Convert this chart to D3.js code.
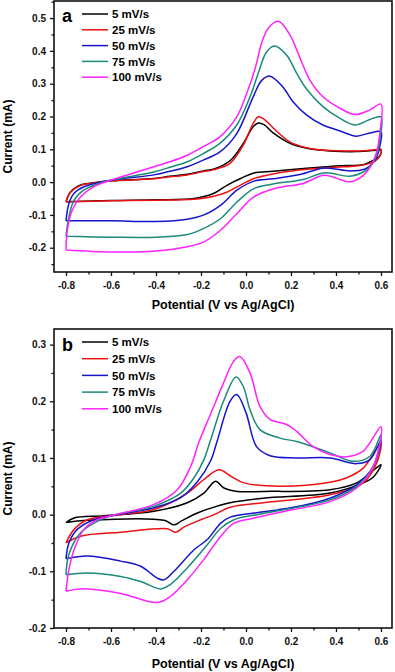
<!DOCTYPE html>
<html>
<head>
<meta charset="utf-8">
<script src="https://cdnjs.cloudflare.com/ajax/libs/d3/7.8.5/d3.min.js"></script>
<style>
  body { margin: 0; background: #fff; }
  svg { display: block; font-family: Arial, "Liberation Sans", sans-serif; }
</style>
</head>
<body>
<svg id="canvas" width="395" height="672"></svg>
<script>
const seriesNames = ["5 mV/s", "25 mV/s", "50 mV/s", "75 mV/s", "100 mV/s"];
const colors = ["#000000", "#ee1111", "#1515cc", "#1a8a7a", "#ff22ff"];

const xTicks = [-0.8, -0.6, -0.4, -0.2, 0.0, 0.2, 0.4, 0.6];
const yTicksA = [-0.2, -0.1, 0.0, 0.1, 0.2, 0.3, 0.4, 0.5];
const yTicksB = [-0.2, -0.1, 0.0, 0.1, 0.2, 0.3];

// [potential (V), current (mA)] : forward scan then reverse scan
const a5 = [[-0.8,-0.06],[-0.78,-0.03],[-0.735,-0.009],[-0.676,-0.002],[-0.6,0.004],[-0.409,0.011],[-0.338,0.018],[-0.261,0.024],[-0.19,0.034],[-0.142,0.04],[-0.071,0.065],[-0.012,0.118],[0.032,0.169],[0.055,0.18],[0.08,0.175],[0.121,0.15],[0.196,0.118],[0.27,0.103],[0.373,0.095],[0.49,0.093],[0.58,0.097],[0.6,0.098],
  [0.595,0.08],[0.58,0.072],[0.565,0.066],[0.52,0.053],[0.418,0.05],[0.27,0.042],[0.12,0.033],[0.035,0.028],[-0.024,0.011],[-0.083,-0.009],[-0.142,-0.034],[-0.231,-0.05],[-0.4,-0.054],[-0.6,-0.056],[-0.8,-0.06]];
const a25 = [[-0.8,-0.06],[-0.78,-0.031],[-0.735,-0.01],[-0.676,-0.003],[-0.6,0.003],[-0.409,0.01],[-0.338,0.016],[-0.261,0.022],[-0.19,0.032],[-0.142,0.038],[-0.071,0.057],[-0.012,0.113],[0.032,0.179],[0.055,0.199],[0.08,0.192],[0.121,0.165],[0.196,0.122],[0.27,0.105],[0.373,0.096],[0.49,0.095],[0.58,0.099],[0.6,0.1],
  [0.595,0.08],[0.575,0.065],[0.55,0.057],[0.5,0.05],[0.4,0.045],[0.27,0.039],[0.12,0.025],[0.035,0.011],[-0.024,-0.009],[-0.083,-0.03],[-0.142,-0.043],[-0.231,-0.052],[-0.4,-0.055],[-0.6,-0.057],[-0.8,-0.06]];
const a50 = [[-0.8,-0.118],[-0.787,-0.065],[-0.764,-0.034],[-0.72,-0.014],[-0.6,0.006],[-0.409,0.022],[-0.338,0.033],[-0.261,0.047],[-0.19,0.067],[-0.116,0.092],[-0.041,0.148],[0.032,0.26],[0.07,0.31],[0.107,0.323],[0.164,0.29],[0.209,0.245],[0.27,0.204],[0.342,0.174],[0.418,0.156],[0.49,0.14],[0.551,0.15],[0.6,0.153],
  [0.595,0.11],[0.58,0.075],[0.56,0.055],[0.53,0.04],[0.462,0.034],[0.35,0.043],[0.24,0.023],[0.121,0.01],[0.035,0.003],[-0.039,-0.024],[-0.112,-0.07],[-0.187,-0.1],[-0.261,-0.113],[-0.4,-0.12],[-0.6,-0.118],[-0.8,-0.118]];
const a75 = [[-0.8,-0.165],[-0.787,-0.106],[-0.764,-0.055],[-0.72,-0.024],[-0.661,-0.006],[-0.6,0.006],[-0.409,0.031],[-0.338,0.045],[-0.261,0.062],[-0.19,0.087],[-0.116,0.118],[-0.041,0.174],[0.018,0.26],[0.059,0.341],[0.09,0.395],[0.126,0.415],[0.181,0.387],[0.225,0.332],[0.27,0.283],[0.342,0.23],[0.418,0.194],[0.484,0.174],[0.551,0.191],[0.6,0.199],
  [0.595,0.13],[0.58,0.08],[0.555,0.05],[0.52,0.03],[0.462,0.018],[0.348,0.028],[0.254,0.008],[0.12,-0.006],[0.035,-0.02],[-0.039,-0.06],[-0.112,-0.111],[-0.187,-0.141],[-0.261,-0.16],[-0.4,-0.168],[-0.6,-0.168],[-0.8,-0.165]];
const a100 = [[-0.8,-0.207],[-0.794,-0.146],[-0.772,-0.085],[-0.735,-0.045],[-0.676,-0.014],[-0.6,0.006],[-0.409,0.047],[-0.338,0.062],[-0.261,0.082],[-0.19,0.108],[-0.116,0.138],[-0.041,0.199],[0.003,0.27],[0.04,0.345],[0.07,0.425],[0.1,0.47],[0.144,0.49],[0.196,0.448],[0.24,0.378],[0.284,0.311],[0.342,0.26],[0.418,0.225],[0.484,0.206],[0.551,0.22],[0.6,0.238],
  [0.595,0.15],[0.58,0.09],[0.56,0.055],[0.52,0.02],[0.462,0.001],[0.348,0.021],[0.254,-0.004],[0.136,-0.018],[0.035,-0.045],[-0.039,-0.095],[-0.112,-0.146],[-0.187,-0.182],[-0.261,-0.197],[-0.4,-0.21],[-0.6,-0.213],[-0.8,-0.207]];

const b5 = [[-0.8,-0.014],[-0.764,-0.006],[-0.631,-0.002],[-0.409,0.006],[-0.261,0.021],[-0.187,0.038],[-0.135,0.059],[-0.098,0.047],[-0.039,0.041],[0.077,0.041],[0.373,0.044],[0.492,0.056],[0.6,0.088],
  [0.565,0.066],[0.521,0.056],[0.373,0.038],[0.077,0.029],[-0.071,0.021],[-0.128,0.015],[-0.216,0.003],[-0.29,-0.012],[-0.32,-0.018],[-0.364,-0.01],[-0.705,-0.01],[-0.8,-0.014]];
const b25 = [[-0.8,-0.05],[-0.764,-0.026],[-0.705,-0.009],[-0.557,0.0],[-0.409,0.009],[-0.261,0.038],[-0.187,0.062],[-0.12,0.079],[-0.068,0.068],[-0.009,0.056],[0.151,0.05],[0.373,0.057],[0.448,0.065],[0.521,0.082],[0.6,0.127],
  [0.581,0.091],[0.521,0.056],[0.373,0.035],[0.077,0.021],[-0.071,0.013],[-0.142,0.0],[-0.201,-0.009],[-0.276,-0.022],[-0.312,-0.031],[-0.35,-0.025],[-0.557,-0.031],[-0.735,-0.038],[-0.8,-0.05]];
const b50 = [[-0.8,-0.078],[-0.787,-0.05],[-0.75,-0.026],[-0.676,-0.009],[-0.6,-0.002],[-0.409,0.012],[-0.29,0.03],[-0.216,0.058],[-0.157,0.095],[-0.128,0.13],[-0.071,0.2],[-0.041,0.212],[0.0,0.18],[0.047,0.12],[0.107,0.104],[0.225,0.1],[0.373,0.1],[0.492,0.09],[0.551,0.097],[0.6,0.132],
  [0.566,0.085],[0.492,0.053],[0.373,0.029],[0.2,0.012],[0.036,0.003],[-0.068,-0.004],[-0.112,-0.015],[-0.172,-0.044],[-0.231,-0.062],[-0.32,-0.1],[-0.364,-0.115],[-0.394,-0.112],[-0.468,-0.091],[-0.557,-0.082],[-0.705,-0.073],[-0.8,-0.078]];
const b75 = [[-0.8,-0.106],[-0.787,-0.07],[-0.735,-0.032],[-0.661,-0.012],[-0.6,-0.002],[-0.409,0.015],[-0.29,0.038],[-0.231,0.065],[-0.187,0.097],[-0.157,0.132],[-0.1,0.2],[-0.044,0.243],[-0.012,0.226],[0.018,0.185],[0.062,0.15],[0.151,0.135],[0.225,0.129],[0.373,0.109],[0.477,0.094],[0.551,0.103],[0.6,0.141],
  [0.566,0.085],[0.492,0.05],[0.373,0.026],[0.077,0.002],[-0.053,-0.009],[-0.112,-0.024],[-0.172,-0.053],[-0.261,-0.094],[-0.335,-0.123],[-0.379,-0.131],[-0.468,-0.118],[-0.557,-0.109],[-0.705,-0.103],[-0.8,-0.106]];
const b100 = [[-0.8,-0.135],[-0.787,-0.097],[-0.764,-0.062],[-0.72,-0.026],[-0.661,-0.009],[-0.6,-0.002],[-0.409,0.018],[-0.305,0.044],[-0.246,0.085],[-0.209,0.128],[-0.16,0.175],[-0.1,0.232],[-0.056,0.27],[-0.027,0.279],[0.018,0.25],[0.062,0.191],[0.107,0.168],[0.181,0.159],[0.225,0.147],[0.299,0.12],[0.373,0.106],[0.448,0.102],[0.521,0.112],[0.6,0.155],
  [0.566,0.085],[0.492,0.047],[0.373,0.023],[0.2,0.008],[0.036,-0.006],[-0.053,-0.015],[-0.112,-0.038],[-0.187,-0.079],[-0.261,-0.115],[-0.335,-0.144],[-0.394,-0.155],[-0.557,-0.139],[-0.735,-0.131],[-0.8,-0.135]];

let canvas = d3.select("#canvas");

const fmt = (d) => d.toFixed(1);

const drawPanel = (p) => {
  const x = d3.scaleLinear().domain([-0.8533, 0.649]).range([54, 392]);
  const y = d3.scaleLinear().domain(p.yDomain).range([p.bottom, p.top]);
  const g = canvas.append("g");

  // minor ticks
  const xMinor = d3.range(-0.7, 0.6, 0.2);
  const yMinor = d3.range(p.yTicks[0] - 0.05, p.yTicks[p.yTicks.length - 1] + 0.06, 0.1)
    .filter((v) => v > p.yDomain[0] && v < p.yDomain[1]);

  g.append("g")
    .attr("transform", "translate(0," + p.bottom + ")")
    .call(d3.axisBottom(x).tickValues(xMinor).tickSize(2.5).tickFormat(""))
    .call((s) => s.select(".domain").remove());
  g.append("g")
    .attr("transform", "translate(54,0)")
    .call(d3.axisLeft(y).tickValues(yMinor).tickSize(2.5).tickFormat(""))
    .call((s) => s.select(".domain").remove());

  const xAxis = g.append("g")
    .attr("transform", "translate(0," + p.bottom + ")")
    .call(d3.axisBottom(x).tickValues(xTicks).tickSize(4).tickPadding(6).tickFormat(fmt));
  const yAxis = g.append("g")
    .attr("transform", "translate(54,0)")
    .call(d3.axisLeft(y).tickValues(p.yTicks).tickSize(4).tickPadding(4).tickFormat(fmt));

  [xAxis, yAxis].forEach((a) => {
    a.select(".domain").remove();
    a.selectAll("text")
      .attr("fill", "#111")
      .style("font-size", "10px")
      .style("font-weight", "bold");
  });
  g.selectAll(".tick line").attr("stroke", "#111").attr("stroke-width", 1.3);

  const line = d3.line()
    .x((d) => x(d[0]))
    .y((d) => y(d[1]))
    .curve(d3.curveCatmullRom.alpha(0.5));

  g.selectAll("path.cv")
    .data(p.series)
    .enter()
    .append("path")
    .attr("class", "cv")
    .attr("d", (d) => line(d))
    .attr("fill", "none")
    .attr("stroke", (d, i) => colors[i])
    .attr("stroke-width", 1.5);

  g.append("rect")
    .attr("x", 54)
    .attr("y", p.top)
    .attr("width", 392 - 54)
    .attr("height", p.bottom - p.top)
    .attr("fill", "none")
    .attr("stroke", "#111")
    .attr("stroke-width", 1.6);

  g.append("text")
    .text(p.letter)
    .attr("x", 62)
    .attr("y", p.letterY)
    .style("font-size", "18px")
    .style("font-weight", "bold");

  const legend = g.selectAll("g.legend-item")
    .data(seriesNames)
    .enter()
    .append("g")
    .attr("class", "legend-item")
    .attr("transform", (d, i) => "translate(0," + (p.legendY + i * p.legendStep) + ")");
  legend.append("line")
    .attr("x1", 82)
    .attr("x2", 108)
    .attr("stroke", (d, i) => colors[i])
    .attr("stroke-width", 1.5);
  legend.append("text")
    .text((d) => d)
    .attr("x", 112)
    .attr("dy", "0.36em")
    .style("font-size", "11.5px")
    .style("font-weight", "bold");

  g.append("text")
    .text("Potential (V vs Ag/AgCl)")
    .attr("x", 223)
    .attr("y", p.xTitleY)
    .attr("text-anchor", "middle")
    .style("font-size", "12.5px")
    .style("font-weight", "bold");

  g.append("text")
    .text("Current (mA)")
    .attr("transform", "translate(12," + (p.top + p.bottom) / 2 + ") rotate(-90)")
    .attr("text-anchor", "middle")
    .style("font-size", "12px")
    .style("font-weight", "bold");
};

drawPanel({
  top: 1, bottom: 272, yDomain: [-0.274, 0.552], yTicks: yTicksA,
  series: [a5, a25, a50, a75, a100],
  letter: "a", letterY: 22, legendY: 14, legendStep: 15.8, xTitleY: 309
});

drawPanel({
  top: 329, bottom: 628, yDomain: [-0.2, 0.3275], yTicks: yTicksB,
  series: [b5, b25, b50, b75, b100],
  letter: "b", letterY: 351, legendY: 342, legendStep: 16.7, xTitleY: 668
});
</script>
</body>
</html>
